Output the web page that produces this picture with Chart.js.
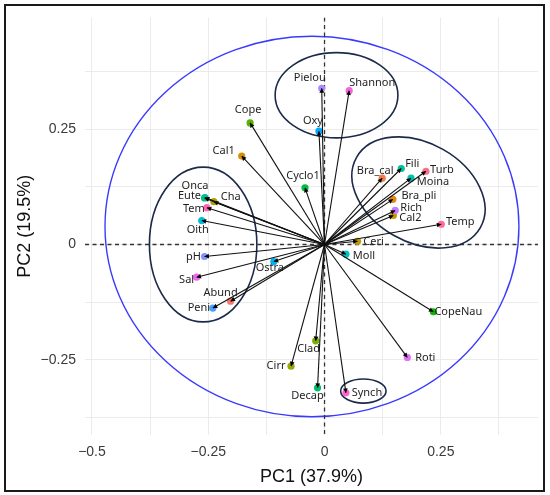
<!DOCTYPE html>
<html>
<head>
<meta charset="utf-8">
<script src="https://cdn.jsdelivr.net/npm/chart.js@4.4.1/dist/chart.umd.min.js"></script>
<style>
  html, body { margin: 0; padding: 0; background: #fff; }
  #wrap { position: relative; width: 550px; height: 495px; }
  #frame { position: absolute; left: 4px; top: 4px; width: 537px; height: 484px; border: 2px solid #1a1a1a; pointer-events: none; }
  canvas { display: block; }
</style>
</head>
<body>
<div id="wrap">
  <canvas id="c" width="550" height="495"></canvas>
  <div id="frame"></div>
</div>
<script>
// ---- data ----
const names = ["Abund","Bra_cal","Bra_pli","Cal1","Cal2","Ceri","Cha","Cirr","Clad","Cope","CopeNau","Cyclo1","Decap","Onca","Eute","Fili","Moina","Moll","Oith","Ostra","Oxy","Peni","pH","Pielou","Rich","Roti","Sal","Shannon","Synch","Tem","Temp","Turb"];
const pc1 = [-0.202, 0.124, 0.147, -0.178, 0.148, 0.071, -0.238, -0.072, -0.019, -0.160, 0.234, -0.042, -0.015, -0.257, -0.258, 0.165, 0.186, 0.046, -0.264, -0.109, -0.012, -0.240, -0.258, -0.006, 0.152, 0.178, -0.275, 0.053, 0.046, -0.253, 0.251, 0.218];
const pc2 = [-0.123, 0.144, 0.098, 0.192, 0.063, 0.007, 0.093, -0.264, -0.209, 0.264, -0.146, 0.123, -0.311, 0.102, 0.101, 0.165, 0.144, -0.021, 0.052, -0.037, 0.246, -0.138, -0.026, 0.339, 0.074, -0.245, -0.071, 0.334, -0.322, 0.080, 0.044, 0.159];
// alphabetical order used for the hue palette
const colorOrder = ["Abund","Bra_cal","Bra_pli","Cal1","Cal2","Ceri","Cha","Cirr","Clad","Cope","CopeNau","Cyclo1","Decap","Eute","Fili","Moina","Moll","Oith","Onca","Ostra","Oxy","Peni","pH","Pielou","Rich","Roti","Sal","Shannon","Synch","Tem","Temp","Turb"];
const xTickValues = [-0.5, -0.25, 0, 0.25];
const xTickLabels = ["\u22120.5", "\u22120.25", "0", "0.25"];
const yTickValues = [-0.25, 0, 0.25];
const yTickLabels = ["\u22120.25", "0", "0.25"];
const gridValues = [-0.5, -0.375, -0.25, -0.125, 0, 0.125, 0.25, 0.375];
const xTitle = "PC1 (37.9%)";
const yTitle = "PC2 (19.5%)";

// ---- annotation shapes (data units) ----
const bigEllipse = { cx: -0.027, cy: 0.039, rx: 0.445, ry: 0.413, rot: 0 };
const groupEllipses = [
  { cx: 0.0258, cy: 0.324, rx: 0.132, ry: 0.0925, rot: 0 },
  { cx: -0.261, cy: 0.0, rx: 0.1155, ry: 0.168, rot: 0 },
  { cx: 0.202, cy: 0.113, rx: 0.153, ry: 0.1075, rot: 29.6 },
  { cx: 0.0835, cy: -0.318, rx: 0.0488, ry: 0.0262, rot: 0 }
];

// ---- label layout (pixel offsets from point) ----
const labelOffset = {
  Cope:[-2,-13], Cal1:[-18,-5], Cyclo1:[-2,-12], Oxy:[-6,-10], Pielou:[-12,-10], Shannon:[23,-8],
  Onca:[-10,-12], Eute:[-15,-2], Cha:[17,-5], Tem:[-13,1], Oith:[-4,9], pH:[-11,0], Sal:[-10,3],
  Abund:[-10,-8], Peni:[-14,0], Ostra:[-4,6], Clad:[-7,8], Cirr:[-15,0], Decap:[-10,8], Synch:[21,0],
  Fili:[11,-5], Bra_cal:[-7,-7], Turb:[16,-1], Moina:[22,4], Bra_pli:[26,-4], Rich:[16,-3], Cal2:[17,2],
  Temp:[19,-2], Ceri:[16,1], Moll:[18,2], CopeNau:[25,0], Roti:[18,0]
};

// ---- hue palette (ggplot-like HCL) ----
function hcl2hex(h, c, l) {
  const hr = h * Math.PI / 180;
  const U = c * Math.cos(hr), V = c * Math.sin(hr);
  const Xn = 95.047, Yn = 100, Zn = 108.883;
  const Y = l > 8 ? Yn * Math.pow((l + 16) / 116, 3) : Yn * l / 903.3;
  const t = Xn + 15 * Yn + 3 * Zn;
  const un = 4 * Xn / t, vn = 9 * Yn / t;
  const u = U / (13 * l) + un, v = V / (13 * l) + vn;
  const X = 9 * Y * u / (4 * v);
  const Z = Y * (12 - 3 * u - 20 * v) / (4 * v);
  const x = X / 100, y = Y / 100, z = Z / 100;
  let r = 3.240479 * x - 1.537150 * y - 0.498535 * z;
  let g = -0.969256 * x + 1.875992 * y + 0.041556 * z;
  let b = 0.055648 * x - 0.204043 * y + 1.057311 * z;
  const gam = s => { s = s <= 0.0031308 ? 12.92 * s : 1.055 * Math.pow(s, 1 / 2.4) - 0.055; return Math.round(Math.min(1, Math.max(0, s)) * 255); };
  return "rgb(" + gam(r) + "," + gam(g) + "," + gam(b) + ")";
}
const nCol = colorOrder.length;
const colors = names.map(n => hcl2hex(15 + 360 * colorOrder.indexOf(n) / nCol, 100, 65));

// ---- plugin ----
function ellipsePath(ctx, xs, ys, e) {
  const cx = xs.getPixelForValue(e.cx), cy = ys.getPixelForValue(e.cy);
  const rx = Math.abs(xs.getPixelForValue(e.cx + e.rx) - cx);
  const ry = Math.abs(ys.getPixelForValue(e.cy + e.ry) - cy);
  ctx.beginPath();
  ctx.ellipse(cx, cy, rx, ry, e.rot * Math.PI / 180, 0, Math.PI * 2);
}
const biplot = {
  id: 'biplot',
  beforeDatasetsDraw(chart) {
    const {ctx, chartArea: a, scales: {x, y}} = chart;
    ctx.save();
    ctx.beginPath(); ctx.rect(a.left, a.top, a.right - a.left, a.bottom - a.top); ctx.clip();
    ctx.strokeStyle = '#3a3aff'; ctx.lineWidth = 1.4;
    ellipsePath(ctx, x, y, bigEllipse); ctx.stroke();
    ctx.strokeStyle = '#333'; ctx.lineWidth = 1.3; ctx.setLineDash([4, 3.5]);
    const x0 = x.getPixelForValue(0), y0 = y.getPixelForValue(0);
    ctx.beginPath(); ctx.moveTo(x0, a.top); ctx.lineTo(x0, a.bottom); ctx.stroke();
    ctx.beginPath(); ctx.moveTo(a.left, y0); ctx.lineTo(a.right, y0); ctx.stroke();
    ctx.setLineDash([]);
    ctx.strokeStyle = '#1c2b4a'; ctx.lineWidth = 1.6;
    groupEllipses.forEach(e => { ellipsePath(ctx, x, y, e); ctx.stroke(); });
    ctx.restore();
  },
  afterDatasetsDraw(chart) {
    const {ctx, scales: {x, y}} = chart;
    const ox = x.getPixelForValue(0), oy = y.getPixelForValue(0);
    ctx.save();
    ctx.strokeStyle = '#111'; ctx.fillStyle = '#000'; ctx.lineWidth = 1.1;
    names.forEach((n, i) => {
      const px = x.getPixelForValue(pc1[i]), py = y.getPixelForValue(pc2[i]);
      ctx.beginPath(); ctx.moveTo(ox, oy); ctx.lineTo(px, py); ctx.stroke();
      const ang = Math.atan2(py - oy, px - ox), L = 5, w = 0.5;
      ctx.beginPath();
      ctx.moveTo(px, py);
      ctx.lineTo(px - L * Math.cos(ang - w), py - L * Math.sin(ang - w));
      ctx.lineTo(px - L * Math.cos(ang + w), py - L * Math.sin(ang + w));
      ctx.closePath(); ctx.fill();
    });
    ctx.font = '11px "Noto Sans"';
    ctx.fillStyle = '#1e1e1e'; ctx.textAlign = 'center'; ctx.textBaseline = 'middle';
    names.forEach((n, i) => {
      const px = x.getPixelForValue(pc1[i]), py = y.getPixelForValue(pc2[i]);
      const o = labelOffset[n] || [0, -10];
      ctx.fillText(n, px + o[0], py + o[1]);
    });
    ctx.restore();
  }
};

function tickLabel(vals, labs) {
  return function (v) {
    const k = vals.findIndex(t => Math.abs(t - v) < 1e-9);
    return k >= 0 ? labs[k] : '';
  };
}

new Chart(document.getElementById('c'), {
  type: 'scatter',
  data: {
    datasets: [{
      data: names.map((n, i) => ({x: pc1[i], y: pc2[i]})),
      pointBackgroundColor: colors,
      pointBorderWidth: 0,
      pointRadius: 3.6
    }]
  },
  options: {
    responsive: false,
    animation: false,
    devicePixelRatio: 1,
    layout: { padding: { left: 0, right: 12, top: 13, bottom: 0 } },
    plugins: { legend: { display: false }, tooltip: { enabled: false } },
    scales: {
      x: {
        type: 'linear', min: -0.515, max: 0.459,
        afterBuildTicks: s => { s.ticks = gridValues.map(v => ({value: v})); },
        afterFit: s => { s.height = 60; },
        grid: { color: '#ebebeb', lineWidth: 1, drawTicks: false },
        border: { display: false },
        ticks: { autoSkip: false, maxRotation: 0, padding: 9, color: '#3a3a3a', font: { family: '"Liberation Sans", Arial', size: 14 }, callback: tickLabel(xTickValues, xTickLabels) },
        title: { display: true, text: xTitle, color: '#111', font: { family: '"Liberation Sans", Arial', size: 18 }, padding: { top: 0, bottom: 7 } }
      },
      y: {
        type: 'linear', min: -0.4135, max: 0.493,
        afterBuildTicks: s => { s.ticks = gridValues.filter(v => v > -0.42).map(v => ({value: v})); },
        afterFit: s => { s.width = 85; },
        grid: { color: '#ebebeb', lineWidth: 1, drawTicks: false },
        border: { display: false },
        ticks: { autoSkip: false, padding: 9, color: '#3a3a3a', font: { family: '"Liberation Sans", Arial', size: 14 }, callback: tickLabel(yTickValues, yTickLabels) },
        title: { display: true, text: yTitle, color: '#111', font: { family: '"Liberation Sans", Arial', size: 18 }, padding: { top: 14, bottom: 0 } }
      }
    }
  },
  plugins: [biplot]
});
</script>
</body>
</html>
